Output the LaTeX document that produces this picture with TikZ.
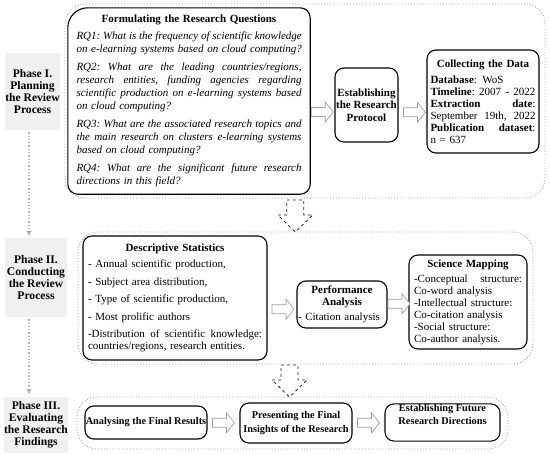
\documentclass[tikz,border=0pt]{standalone}
\usepackage{fontspec}
\setmainfont{Liberation Serif}
\usetikzlibrary{calc,arrows.meta}
\newcommand\jl[2]{\makebox[#1][s]{\spaceskip=.25em plus 1fil\relax\frenchspacing #2}}
\begin{document}
\begin{tikzpicture}[x=1pt,y=-1pt, font=\fontsize{11}{12}\selectfont,
  box/.style={draw, line width=1.1pt, rounded corners=9pt, inner sep=0pt},
  outer/.style={draw=gray!75, dotted, line width=0.9pt, rounded corners=20pt, inner sep=0pt},
  phase/.style={fill=gray!12, inner sep=0pt, align=center, font=\fontsize{11.6}{11.9}\selectfont\bfseries},
  fin/.style={box, align=center, font=\fontsize{10.3}{13}\selectfont\bfseries},
  blk/.style={draw=gray!75, line width=0.7pt, fill=white},
  dblk/.style={draw=black!85, dashed, line width=0.8pt, fill=white},
  link/.style={draw=gray!60, dotted, line width=1.3pt, -{Latex[length=5pt,width=6pt]}, shorten <=2pt, shorten >=2pt},
  rarr/.pic={\path[blk] (-11,-4.5) -- (3,-4.5) -- (3,-10) -- (11,0) -- (3,10) -- (3,4.5) -- (-11,4.5) -- cycle;},
  darr/.pic={\path[dblk] (-8.5,-16) -- (8.5,-16) -- (8.5,-1) -- (17.5,-1) -- (0,16) -- (-17.5,-1) -- (-8.5,-1) -- cycle;}
]
\useasboundingbox (0,0) rectangle (550,455);

% phase labels
\node[phase, minimum width=55pt, minimum height=77pt] (p1) at (32.5,91.5) {Phase I.\\Planning\\the Review\\Process};
\node[phase, minimum width=62pt, minimum height=79pt] (p2) at (36,277.5) {Phase II.\\Conducting\\the Review\\Process};
\node[phase, minimum width=62pt, minimum height=56pt] (p3) at (36,424.5) {Phase III.\\Evaluating\\the Research\\Findings};
\draw[link] ([xshift=-3.5pt]p1.south) -- ([xshift=-7pt]p2.north);
\draw[link] ([xshift=-7pt]p2.south) -- ([xshift=-7pt]p3.north);

% outer dotted frames
\node[outer, minimum width=480pt, minimum height=194pt] (o1) at (305,101) {};
\node[outer, minimum width=455pt, minimum height=132pt] (o2) at (305.5,298) {};
\node[outer, minimum width=431pt, minimum height=52pt] (o3) at (292.5,423) {};

% Phase I
\node[inner sep=0pt, minimum width=242pt, minimum height=186pt, text width=225pt, align=left,
      font=\fontsize{11}{13}\selectfont] (rq) at (189,101) {%
\makebox[225pt][c]{\textbf{Formulating the Research Questions}}\\[4pt]
\itshape
\jl{225pt}{RQ1: What is the frequency of scientific knowledge}\\
\mbox{on e-learning systems based on cloud computing?}\\[5pt]
\jl{225pt}{RQ2: What are the leading countries/regions,}\\
\jl{225pt}{research entities, funding agencies regarding}\\
\jl{225pt}{scientific production on e-learning systems based}\\
on cloud computing?\\[5pt]
\jl{225pt}{RQ3: What are the associated research topics and}\\
\jl{225pt}{the main research on clusters e-learning systems}\\
based on cloud computing?\\[5pt]
\jl{225pt}{RQ4: What are the significant future research}\\
directions in this field?};
\draw[line width=1.1pt] (rq.west) [rounded corners=20pt] |- (rq.north) [rounded corners=10pt] -| (rq.east) |- (rq.south) -| (rq.west) -- cycle;

\node[box, minimum width=63pt, minimum height=74pt, align=center, font=\fontsize{11}{12.5}\selectfont\bfseries] (est) at (366.5,105) {Establishing\\the Research\\Protocol};

\node[box, minimum width=112pt, minimum height=103pt, text width=105pt, align=left] (col) at (483,101.5) {%
\makebox[105pt][c]{\textbf{Collecting the Data}}\\[4pt]
\mbox{\textbf{Database}: WoS}\\
\jl{105pt}{\textbf{Timeline}:\ 2007 - 2022}\\
\jl{105pt}{\textbf{Extraction} \textbf{date}:}\\
\jl{105pt}{September 19th, 2022}\\
\jl{105pt}{\textbf{Publication} \textbf{dataset}:}\\
n = 637};

\pic at ($(rq.east)!0.5!(est.west)+(0,9)$) {rarr};
\pic at ($(est.east)!0.5!(col.west)+(2,9)$) {rarr};
\pic at ($(o1.south)!0.5!(o2.north)+(-10,1)$) {darr};

% Phase II
\node[box, minimum width=184pt, minimum height=124pt, text width=174pt, align=left] (desc) at (175,298) {%
\makebox[174pt][c]{\textbf{Descriptive Statistics}}\\[4pt]
- Annual scientific production,\\[5.5pt]
- Subject area distribution,\\[5.5pt]
- Type of scientific production,\\[5.5pt]
- Most prolific authors\\[5.5pt]
\jl{174pt}{-Distribution of scientific knowledge:}\\
countries/regions, research entities.};

\node[box, minimum width=90pt, minimum height=47pt, text width=88pt, align=left] (perf) at (342,304.5) {%
\makebox[88pt][c]{\textbf{Performance}}\\\makebox[88pt][c]{\textbf{Analysis}}\\[3pt]- Citation analysis};

\node[box, minimum width=118pt, minimum height=94pt, text width=108pt, align=left] (sci) at (468,302) {%
\makebox[108pt][c]{\textbf{Science Mapping}}\\[3pt]
\jl{108pt}{-Conceptual structure:}\\
Co-word analysis\\
-Intellectual structure:\\
Co-citation analysis\\
-Social structure:\\
Co-author analysis.};

\pic at ($(desc.east)!0.5!(perf.west)+(1,8)$) {rarr};
\pic at ($(perf.east)!0.5!(sci.west)+(1,0.5)$) {rarr};
\pic at ($(o2.south)!0.5!(o3.north)+(-9.5,0.5)$) {darr};

% Phase III
\node[fin, minimum width=122pt, minimum height=33pt] (ana) at (146,422.5) {Analysing the Final Results};
\node[fin, minimum width=112pt, minimum height=40pt, font=\fontsize{10.3}{13.5}\selectfont\bfseries] (pres) at (296,423) {Presenting the Final\\Insights of the Research};
\node[fin, minimum width=115pt, minimum height=37pt] (fut) at (442.5,422.5) {Establishing Future\\Research Directions\\[4pt]};
\pic at ($(ana.east)!0.5!(pres.west)$) {rarr};
\pic at ($(pres.east)!0.5!(fut.west)$) {rarr};
\end{tikzpicture}
\end{document}
